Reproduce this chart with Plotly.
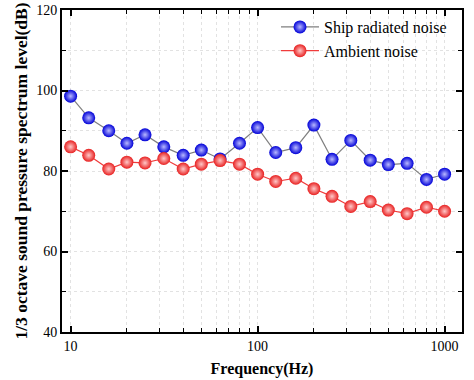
import plotly.graph_objects as go

freq = [10, 12.5, 16, 20, 25, 31.5, 40, 50, 63, 80, 100, 125, 160, 200, 250, 315, 400, 500, 630, 800, 1000]
ship = [98.6, 93.2, 90.0, 86.9, 89.0, 86.0, 83.9, 85.2, 83.0, 86.9, 90.8, 84.6, 85.8, 91.4, 82.9, 87.6, 82.7, 81.6, 81.9, 77.9, 79.2]
ambient = [86.0, 83.9, 80.5, 82.2, 82.0, 83.1, 80.5, 81.7, 82.6, 81.7, 79.2, 77.4, 78.2, 75.6, 73.7, 71.2, 72.4, 70.3, 69.4, 71.0, 70.0]

font = "Liberation Serif, Times New Roman, serif"
grid_col = "#e2e2e2"

fig = go.Figure()
fig.add_trace(go.Scatter(
    x=freq, y=ship, mode="lines+markers", name="Ship radiated noise",
    line=dict(color="#7f7f7f", width=1.2),
    marker=dict(size=13, color="#0000d8", gradient=dict(type="radial", color="#b8b8ff"),
                line=dict(width=0)),
))
fig.add_trace(go.Scatter(
    x=freq, y=ambient, mode="lines+markers", name="Ambient noise",
    line=dict(color="#f03c3c", width=1.2),
    marker=dict(size=13, color="#e82020", gradient=dict(type="radial", color="#ffc8c8"),
                line=dict(width=0)),
))

axis_common = dict(
    showline=True, linecolor="black", linewidth=2, mirror="ticks",
    ticks="inside", ticklen=6, tickwidth=1.5, tickcolor="black",
    gridcolor=grid_col, griddash="dot", gridwidth=1,
    zeroline=False, automargin=False,
    tickfont=dict(family=font, size=14, color="black"),
)

fig.update_xaxes(
    type="log", range=[0.954, 3.093],
    tickvals=[10, 100, 1000], ticktext=["10", "100", "1000"],
    minor=dict(tickvals=[20, 30, 40, 50, 60, 70, 80, 90, 200, 300, 400, 500, 600, 700, 800, 900],
               ticks="inside", ticklen=4, tickcolor="black", tickwidth=1.2,
               showgrid=True, gridcolor=grid_col, griddash="dot", gridwidth=1),
    title=dict(text="<b>Frequency(Hz)</b>", font=dict(family=font, size=16, color="black"), standoff=10),
    **axis_common,
)
fig.update_yaxes(
    range=[40, 120], dtick=20, tick0=40,
    minor=dict(dtick=10, ticks="inside", ticklen=4, tickcolor="black", tickwidth=1.2,
               showgrid=True, gridcolor=grid_col, griddash="dot", gridwidth=1),
    title=dict(text="<b>1/3 octave sound pressure spectrum level(dB)</b>",
               font=dict(family=font, size=17.5, color="black"), standoff=4),
    **axis_common,
)

fig.update_layout(
    width=474, height=380,
    margin=dict(l=62, r=12, t=10, b=48),
    plot_bgcolor="white", paper_bgcolor="white",
    showlegend=True,
    legend=dict(x=0.975, y=1.0, xanchor="right", yanchor="top",
                bgcolor="rgba(0,0,0,0)", itemwidth=38,
                font=dict(family=font, size=16, color="black"),
                tracegroupgap=0),
)

fig.write_html("out.html", config={"displayModeBar": False},
               post_script="document.body.style.margin='0px';")
